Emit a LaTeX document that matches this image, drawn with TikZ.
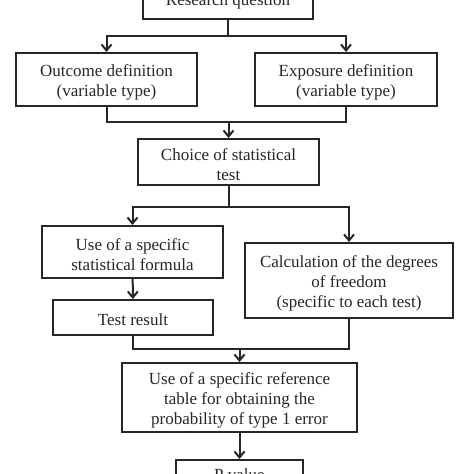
\documentclass[tikz,border=0pt]{standalone}
\usepackage{fontspec}
\setmainfont{Liberation Serif}
\usetikzlibrary{arrows.meta}
\definecolor{ink}{HTML}{262626}
\newcommand\tp{\rule{0pt}{17pt}}
\begin{document}
\begin{tikzpicture}[x=1pt,y=-1pt,
  box/.style={draw=ink, line width=2pt, text=ink, align=center, inner sep=0pt,
    font=\fontsize{17}{20}\selectfont},
  conn/.style={draw=ink, line width=2pt},
  arr/.style={conn, -{Straight Barb[length=6pt,width=10pt,line width=2pt]}}]
\useasboundingbox (0,0) rectangle (474,474);
\node[box, minimum width=170pt, minimum height=36pt] (RQ) at (228,1) {\raisebox{-3pt}{Research question}};
\node[box, minimum width=181pt, minimum height=53pt] (Out) at (106.5,79.5) {\tp Outcome definition\\(variable type)};
\node[box, minimum width=182pt, minimum height=53pt] (Exp) at (346,79.5) {\tp Exposure definition\\(variable type)};
\node[box, minimum width=181pt, minimum height=46pt] (Cho) at (228.5,162) {\tp Choice of statistical\\test};
\node[box, minimum width=181pt, minimum height=52pt] (Use) at (132.5,252) {\tp Use of a specific\\statistical formula};
\node[box, minimum width=208pt, minimum height=75pt] (Calc) at (349,280.5) {\tp Calculation of the degrees\\of freedom\\(specific to each test)};
\node[box, minimum width=160pt, minimum height=35pt] (Test) at (133,317.5) {\tp Test result};
\node[box, minimum width=235pt, minimum height=69pt] (Ref) at (239.5,397.5) {\tp Use of a specific reference\\table for obtaining the\\probability of type 1 error};
\node[box, minimum width=127pt, minimum height=35pt] (P) at (239.5,477.5) {\raisebox{5pt}{P value}};
\coordinate (j1) at (228,36);
\coordinate (j2) at (228.5,122);
\coordinate (j3) at (228.5,207);
\coordinate (j4) at (239.5,349);
\draw[conn] (RQ) -- (j1);
\draw[arr] (j1) -| (Out);
\draw[arr] (j1) -| (Exp);
\draw[conn] (Out) |- (j2);
\draw[conn] (Exp) |- (j2);
\draw[arr] (j2) -- (Cho);
\draw[conn] (Cho) -- (j3);
\draw[arr] (j3) -| (Use);
\draw[arr] (j3) -| (Calc);
\draw[arr] (Use) -- (Test);
\draw[conn] (Test) |- (j4);
\draw[conn] (Calc) |- (j4);
\draw[arr] (j4) -- (Ref);
\draw[arr] (Ref) -- (P);
\end{tikzpicture}
\end{document}
